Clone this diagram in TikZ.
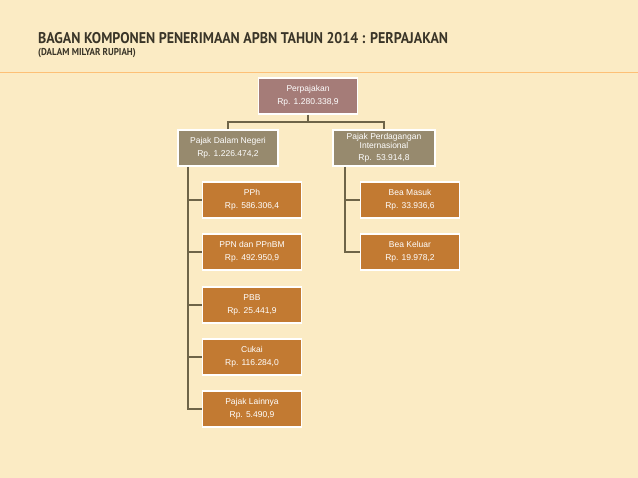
\documentclass[tikz,border=0pt]{standalone}
\usepackage{fontspec}
\setmainfont{Liberation Sans}
\newfontfamily\titlefont{PT Sans}
\definecolor{bgc}{HTML}{FBEBC4}
\definecolor{topc}{HTML}{A57C78}
\definecolor{midc}{HTML}{978A6E}
\definecolor{lowc}{HTML}{C27A32}
\definecolor{linec}{HTML}{6E6448}
\definecolor{titc}{HTML}{3A3528}
\begin{document}
\begin{tikzpicture}[x=1pt,y=-1pt,
  box/.style={draw=white,line width=1.5pt,minimum width=99pt,minimum height=36pt,text=white,font=\fontsize{8.5}{13}\selectfont,align=center,inner sep=1pt},
  conn/.style={draw=linec,line width=1.3pt}]
\fill[bgc] (0,0) rectangle (638,478);
\useasboundingbox (0,0) rectangle (638,478);
\draw[orange!40!bgc,line width=0.8pt] (0,72) -- (638,72);
\node[anchor=base west,text=titc,inner sep=0] (t1) at (38,44) {\titlefont\bfseries\fontsize{15.5}{17}\selectfont\addfontfeature{FakeStretch=0.9}BAGAN KOMPONEN PENERIMAAN APBN TAHUN 2014 : PERPAJAKAN};
\node[anchor=base west,text=titc,inner sep=0] (t2) at (38,56) {\titlefont\bfseries\fontsize{10}{11}\selectfont\addfontfeature{FakeStretch=0.9}(DALAM MILYAR RUPIAH)};
\node[box,fill=topc] (p) at (308,96) {Perpajakan\\Rp. 1.280.338,9};
\node[box,fill=midc,minimum width=100pt] (dn) at (228,148) {Pajak Dalam Negeri\\Rp. 1.226.474,2};
\node[box,fill=midc,minimum width=102pt,font=\fontsize{8.5}{9}\selectfont] (pi) at (384,148) {Pajak Perdagangan\\Internasional\\[3pt]Rp.\ \ 53.914,8};
\node[box,fill=lowc] (pph) at (252,200) {PPh\\Rp. 586.306,4};
\node[box,fill=lowc] (ppn) at (252,252) {PPN dan PPnBM\\Rp. 492.950,9};
\node[box,fill=lowc] (pbb) at (252,305) {PBB\\Rp. 25.441,9};
\node[box,fill=lowc] (cuk) at (252,357) {Cukai\\Rp. 116.284,0};
\node[box,fill=lowc] (lain) at (252,409) {Pajak Lainnya\\Rp. 5.490,9};
\node[box,fill=lowc] (bm) at (410,200) {Bea Masuk\\Rp. 33.936,6};
\node[box,fill=lowc] (bk) at (410,252) {Bea Keluar\\Rp. 19.978,2};
\coordinate (j) at (308,122);
\draw[conn] (p.south) -- (j);
\draw[conn] (dn.north) |- (j) -| (pi.north);
\coordinate (lt) at (188,167);
\coordinate (rt) at (345,167);
\draw[conn] (lt) |- (lain.west);
\foreach \n in {pph,ppn,pbb,cuk} \draw[conn] (lt |- \n.west) -- (\n.west);
\draw[conn] (rt) |- (bk.west);
\draw[conn] (rt |- bm.west) -- (bm.west);
\end{tikzpicture}
\end{document}
